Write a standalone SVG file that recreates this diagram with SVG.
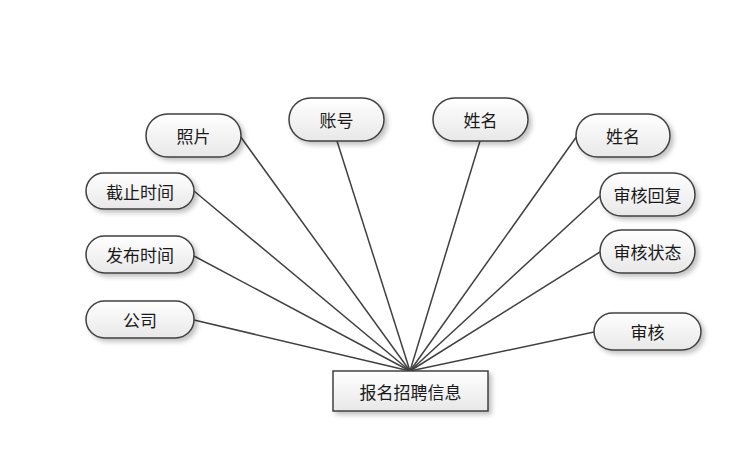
<svg xmlns="http://www.w3.org/2000/svg" width="744" height="469" viewBox="0 0 744 469">
<defs>
<linearGradient id="g" x1="0" y1="0" x2="0" y2="1">
<stop offset="0" stop-color="#ffffff"/>
<stop offset="1" stop-color="#e8e8e8"/>
</linearGradient>
<filter id="sh" x="-20%" y="-30%" width="150%" height="170%">
<feGaussianBlur in="SourceAlpha" stdDeviation="2.5"/>
<feOffset dx="3" dy="3" result="b"/>
<feComponentTransfer><feFuncA type="linear" slope="0.25"/></feComponentTransfer>
<feMerge><feMergeNode/><feMergeNode in="SourceGraphic"/></feMerge>
</filter>
</defs>
<style>
.n{fill:url(#g);stroke:#404040;stroke-width:1.5;filter:url(#sh)}
.t{font-family:"Noto Sans CJK SC","Noto Sans",sans-serif;font-size:17px;fill:#1a1a1a;text-anchor:middle;dominant-baseline:central}
.c{stroke:#404040;stroke-width:1.5;fill:none}
</style>
<rect width="744" height="469" fill="#ffffff"/>
<g id="connectors">
<line class="c" x1="240" y1="136" x2="410" y2="371"/>
<line class="c" x1="337" y1="141" x2="410" y2="371"/>
<line class="c" x1="480" y1="141" x2="410" y2="371"/>
<line class="c" x1="577" y1="136" x2="410" y2="371"/>
<line class="c" x1="194" y1="191" x2="410" y2="371"/>
<line class="c" x1="600" y1="196" x2="410" y2="371"/>
<line class="c" x1="194" y1="256" x2="410" y2="371"/>
<line class="c" x1="600" y1="252" x2="410" y2="371"/>
<line class="c" x1="194" y1="320" x2="410" y2="371"/>
<line class="c" x1="594" y1="332" x2="410" y2="371"/>
</g>
<g id="node-zhaopian"><rect class="n" x="146" y="114" width="95" height="43" rx="21.5"/><text class="t" x="193.5" y="135.5">照片</text></g>
<g id="node-zhanghao"><rect class="n" x="289" y="98" width="95" height="43" rx="21.5"/><text class="t" x="336.5" y="119.5">账号</text></g>
<g id="node-xingming1"><rect class="n" x="433" y="98" width="95" height="43" rx="21.5"/><text class="t" x="480.5" y="119.5">姓名</text></g>
<g id="node-xingming2"><rect class="n" x="576" y="114" width="94" height="43" rx="21.5"/><text class="t" x="623" y="135.5">姓名</text></g>
<g id="node-jiezhishijian"><rect class="n" x="86" y="173" width="108" height="36" rx="18"/><text class="t" x="140" y="191">截止时间</text></g>
<g id="node-shenhehuifu"><rect class="n" x="600" y="173" width="95" height="43" rx="21.5"/><text class="t" x="647.5" y="194.5">审核回复</text></g>
<g id="node-fabushijian"><rect class="n" x="86" y="236" width="108" height="37" rx="18.5"/><text class="t" x="140" y="254.5">发布时间</text></g>
<g id="node-shenhezhuangtai"><rect class="n" x="600" y="230" width="95" height="43" rx="21.5"/><text class="t" x="647.5" y="251.5">审核状态</text></g>
<g id="node-gongsi"><rect class="n" x="86" y="301" width="108" height="37" rx="18.5"/><text class="t" x="140" y="319.5">公司</text></g>
<g id="node-shenhe"><rect class="n" x="594" y="313" width="107" height="37" rx="18.5"/><text class="t" x="647.5" y="331.5">审核</text></g>
<g id="node-main"><rect class="n" x="333" y="371" width="155" height="40" rx="0"/><text class="t" x="410.5" y="391">报名招聘信息</text></g>
</svg>
